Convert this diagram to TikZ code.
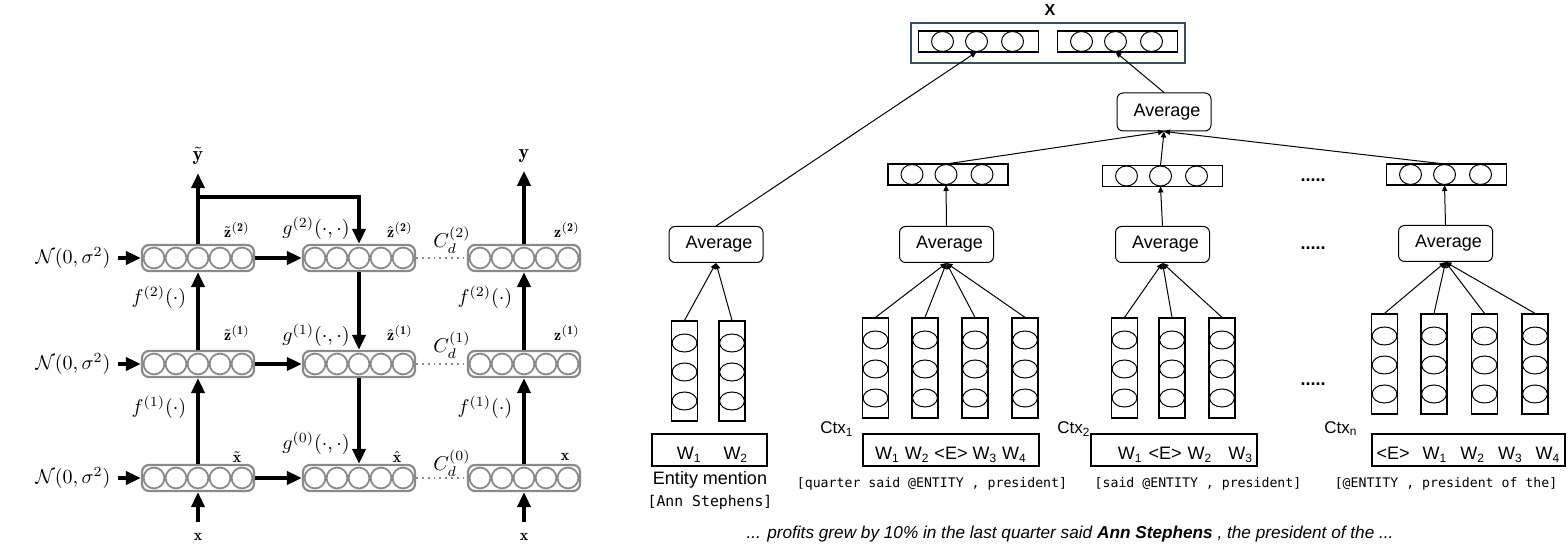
\documentclass[tikz,border=0pt]{standalone}
\usepackage{fontspec}
\setsansfont{Liberation Sans}
\setmonofont{DejaVu Sans Mono}
\usepackage{tikz}
\usetikzlibrary{arrows.meta,shapes.geometric,positioning}

\definecolor{layergray}{RGB}{138,138,138}
\definecolor{xframe}{RGB}{58,80,94}

\tikzset{
  layer/.style={draw=layergray, line width=1.1pt, rounded corners=3.5pt,
    minimum width=56pt, minimum height=13pt, inner sep=0pt},
  unitc/.style={draw=layergray, line width=0.9pt},
  bigarr/.style={line width=2pt, -{Triangle[length=7.5pt,width=6.5pt]}},
  mlbl/.style={font=\fontsize{10}{12}\selectfont, inner sep=0pt},
  vlbl/.style={font=\fontsize{8}{10}\selectfont, inner sep=0pt},
  avgbox/.style={draw, line width=0.5pt, rounded corners=3pt, minimum width=47pt,
    minimum height=18pt, font=\sffamily\fontsize{9}{11}\selectfont},
  vecbox/.style={draw, line width=0.6pt, minimum width=60pt, minimum height=10.5pt, inner sep=0pt},
  vunit/.style={ellipse, draw, line width=0.5pt, minimum width=11pt, minimum height=10pt, inner sep=0pt},
  wordcol/.style={draw, line width=0.6pt, minimum width=13pt, minimum height=50pt, inner sep=0pt},
  wordbox/.style={draw, line width=0.6pt, inner sep=2pt, minimum height=16pt,
    font=\sffamily\fontsize{9}{11}\selectfont, text height=10pt, text depth=0pt},
  link/.style={line width=0.5pt, -{Triangle[length=3pt,width=2.6pt]}},
  sans/.style={font=\sffamily\fontsize{8.5}{10}\selectfont, inner sep=0pt},
  mono/.style={font=\ttfamily\fontsize{6.6}{8}\selectfont, inner sep=0pt},
  dots/.style={font=\sffamily\bfseries\fontsize{9}{11}\selectfont, inner sep=0pt, anchor=base},
}

\begin{document}
\begin{tikzpicture}[x=0.5pt, y=-0.5pt]
\useasboundingbox (0,0) rectangle (1568,560);

% ---- ladder network (left) ----
\foreach \r/\y in {0/478,1/364,2/258}{
  \node[layer] (zt\r) at (198,\y) {};
  \node[layer] (zh\r) at (359,\y) {};
  \node[layer] (zc\r) at (524,\y) {};
  \foreach \n in {zt,zh,zc}
    \foreach \k in {-2,...,2}
      \draw[unitc] ([xshift=\k*11pt]\n\r.center) circle[radius=5.2pt];
  \node[mlbl] (nz\r) at (73,\y) {$\mathcal{N}(0,\sigma^2)$};
  \draw[bigarr, shorten <=3.5pt] (nz\r) -- (zt\r);
  \draw[bigarr] (zt\r) -- (zh\r);
  \draw[layergray, dotted, line width=0.9pt] (zh\r) -- (zc\r);
}
\draw[bigarr] (zt0) -- (zt1);
\draw[bigarr] (zt1) -- (zt2);
\draw[bigarr] (zh2) -- (zh1);
\draw[bigarr] (zh1) -- (zh0);
\draw[bigarr] (zc0) -- (zc1);
\draw[bigarr] (zc1) -- (zc2);

\node[vlbl] (xa) at (198,537) {$\mathbf{x}$};
\node[vlbl] (xb) at (524,537) {$\mathbf{x}$};
\draw[bigarr, shorten <=5.5pt] (xa) -- (zt0);
\draw[bigarr, shorten <=5.5pt] (xb) -- (zc0);
\node[mlbl] (yt) at (198,156) {$\tilde{\mathbf{y}}$};
\node[mlbl] (yc) at (524,156) {$\mathbf{y}$};
\draw[bigarr, shorten >=4pt] (zt2) -- (yt);
\draw[bigarr, shorten >=4pt] (zc2) -- (yc);
\coordinate (split) at (198,197);
\draw[bigarr, line join=miter] (split) -| (zh2);

\node[mlbl] (f2a) at (159,297) {$f^{(2)}(\cdot)$};
\node[mlbl] (f1a) at (159,407) {$f^{(1)}(\cdot)$};
\node[mlbl] (f2b) at (485,297) {$f^{(2)}(\cdot)$};
\node[mlbl] (f1b) at (485,407) {$f^{(1)}(\cdot)$};
\node[mlbl] (g2) at (316,228) {$g^{(2)}(\cdot,\cdot)$};
\node[mlbl] (g1) at (316,335) {$g^{(1)}(\cdot,\cdot)$};
\node[mlbl] (g0) at (316,443) {$g^{(0)}(\cdot,\cdot)$};
\node[mlbl] (cd2) at (452,240) {$C_d^{(2)}$};
\node[mlbl] (cd1) at (452,345) {$C_d^{(1)}$};
\node[mlbl] (cd0) at (452,463) {$C_d^{(0)}$};

\node[vlbl] (lzt2) at (237,230) {$\tilde{\mathbf{z}}^{\mathbf{(2)}}$};
\node[vlbl] (lzt1) at (237,333) {$\tilde{\mathbf{z}}^{\mathbf{(1)}}$};
\node[vlbl] (lxt) at (237,457) {$\tilde{\mathbf{x}}$};
\node[vlbl] (lzh2) at (400,230) {$\hat{\mathbf{z}}^{\mathbf{(2)}}$};
\node[vlbl] (lzh1) at (400,333) {$\hat{\mathbf{z}}^{\mathbf{(1)}}$};
\node[vlbl] (lxh) at (397,457) {$\hat{\mathbf{x}}$};
\node[vlbl] (lzc2) at (567,230) {$\mathbf{z}^{\mathbf{(2)}}$};
\node[vlbl] (lzc1) at (567,333) {$\mathbf{z}^{\mathbf{(1)}}$};
\node[vlbl] (lxc) at (565,457) {$\mathbf{x}$};

% ---- mention / context encoder (right) ----
\node[draw=xframe, line width=0.7pt, minimum width=137pt, minimum height=20pt, inner sep=0pt] (xbox) at (1048,43) {};
\node[font=\sffamily\bfseries\fontsize{8}{10}\selectfont, inner sep=0pt] (xlab) at (1050,10) {X};
\node[vecbox] (xl) at (978.5,41.5) {};
\node[vecbox] (xr) at (1117.5,41.5) {};
\node[vecbox] (v1) at (948,174.5) {};
\node[vecbox] (v2) at (1162.5,176) {};
\node[vecbox] (vn) at (1446.5,174.5) {};
\foreach \v in {xl,xr,v1,v2,vn}
  \foreach \k/\dx in {1/-18pt,2/-1pt,3/17pt}
    \node[vunit] (\v-\k) at ([xshift=\dx]\v.center) {};

\node[avgbox, minimum height=19pt] (avgtop) at (1164,112) {\hspace*{3pt}Average};
\node[avgbox] (avg0) at (716,244.5) {\hspace*{3pt}Average};
\node[avgbox] (avg1) at (946.5,244.5) {\hspace*{3pt}Average};
\node[avgbox] (avg2) at (1162.5,244.5) {\hspace*{3pt}Average};
\node[avgbox] (avgn) at (1445.5,243.5) {\hspace*{3pt}Average};

\draw[link] (avg0.north) -- (xl-2.south);
\draw[link] (avgtop.north) -- (xr-2.south);
\foreach \c in {1,2,n}{
  \draw[link] (avg\c.north) -- (v\c-2.south);
  \draw[link] (v\c-2.north) -- (avgtop.south);
}

% word vectors
\foreach \c/\y/\xs in {0/371/{684.5,732}, 1/368/{875.5,925,975,1025},
    2/368/{1124.5,1172,1222}, n/364/{1384.5,1434,1484.5,1535}}{
  \foreach \x [count=\j] in \xs {
    \node[wordcol] (w\c-\j) at (\x,\y) {};
    \foreach \dy in {14pt,-0.5pt,-15pt}
      \draw[line width=0.5pt] ([yshift=\dy]w\c-\j.center) ellipse[x radius=6.2pt, y radius=4.5pt];
    \draw[link] (w\c-\j.north) -- (avg\c.south);
  }
}

\node[wordbox, minimum width=57.5pt] (wb0) at (709.5,450) {\hspace*{3pt}W\textsubscript{1}\hspace{11pt}W\textsubscript{2}};
\node[wordbox, minimum width=88pt] (wb1) at (951,450) {W\textsubscript{1} W\textsubscript{2} <E> W\textsubscript{3} W\textsubscript{4}};
\node[wordbox, text width=79pt, align=right] (wb2) at (1174,450) {W\textsubscript{1} <E> W\textsubscript{2}\hspace{8pt}W\textsubscript{3}};
\node[wordbox, minimum width=96.5pt] (wbn) at (1468.5,450) {<E>\hspace{6.5pt}W\textsubscript{1}\hspace{6.5pt}W\textsubscript{2}\hspace{6.5pt}W\textsubscript{3}\hspace{6.5pt}W\textsubscript{4}};

\node[sans, anchor=base] (ctx1) at (837,434) {Ctx\textsubscript{1}};
\node[sans, anchor=base] (ctx2) at (1074,434) {Ctx\textsubscript{2}};
\node[sans, anchor=base] (ctxn) at (1341,434) {Ctx\textsubscript{n}};

\node[sans, font=\sffamily\fontsize{9}{11}\selectfont] (ment) at (710,480) {Entity mention};
\node[mono, font=\ttfamily\fontsize{7.4}{9}\selectfont] (ment2) at (710,502) {[Ann Stephens]};
\node[mono] (br1) at (932,484) {[quarter said @ENTITY , president]};
\node[mono] (br2) at (1198,484) {[said @ENTITY , president]};
\node[mono] (brn) at (1446,484) {[@ENTITY , president of the]};

\node[dots] (dots1) at (1313,182) {.....};
\node[dots] (dots2) at (1313,250) {.....};
\node[dots] (dots3) at (1313,386) {.....};

\node[font=\sffamily\itshape\fontsize{8.6}{10}\selectfont, inner sep=0pt] (sent) at (1070,534)
  {... profits grew by 10\% in the last quarter said \textbf{Ann Stephens} , the president of the ...};
\end{tikzpicture}
\end{document}
